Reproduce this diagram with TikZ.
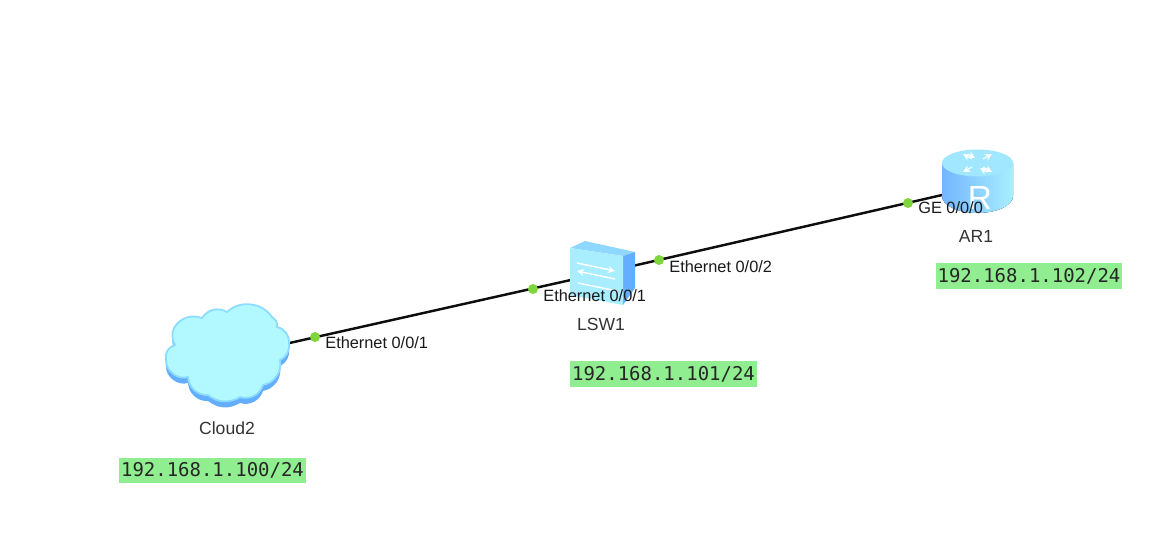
\documentclass[tikz,border=0pt]{standalone}
\usepackage{fontspec}
\setmainfont{Liberation Sans}
\setmonofont{DejaVu Sans Mono}
\usetikzlibrary{arrows.meta}
\definecolor{linkGreen}{HTML}{7FD63C}
\definecolor{ipGreen}{HTML}{90EE90}
\definecolor{cloudFill}{HTML}{B2F8FF}
\definecolor{cloudEdge}{HTML}{8CDCFF}
\definecolor{iconBlue}{HTML}{64AEFF}
\definecolor{iconLight}{HTML}{A8EEFF}
\definecolor{iconMid}{HTML}{8ED8FF}
\newcommand\CloudPath[2]{
	(175+#1,345+#2) to[bend left=25] (174+#1,328+#2) to[bend left=40] (202+#1,318+#2)
	to[bend left=45] (227+#1,312+#2) to[bend left=50] (272+#1,317+#2)
	to[bend left=35] (277+#1,327+#2) to[bend left=40] (289+#1,343+#2)
	to[bend left=35] (280+#1,360+#2) to[bend left=45] (263+#1,385+#2)
	to[bend left=45] (240+#1,397+#2) to[bend left=35] (208+#1,395+#2)
	to[bend left=45] (188+#1,377+#2) to[bend left=55] (166+#1,360+#2)
	to[bend left=45] (175+#1,345+#2) -- cycle
}
\tikzset{
	link/.style={draw=black!95, line width=1.4pt},
	port/.style={circle, fill=linkGreen, minimum size=0.2cm, inner sep=0pt},
	portlabel/.style={anchor=west, inner sep=0pt, text=black!90, font=\fontsize{9.3}{11}\selectfont},
	devlabel/.style={inner sep=0pt, text=black!80, font=\fontsize{10}{12}\selectfont},
	ipbox/.style={fill=ipGreen, minimum width=3.74cm, minimum height=0.51cm, inner sep=0pt, text=black!85, font=\ttfamily\fontsize{10.8}{12}\selectfont},
	iconarrow/.style={draw=white, line width=0.8pt, -{Stealth[length=4pt,width=4pt]}}
}

\begin{document}
\begin{tikzpicture}[x=0.02cm, y=-0.02cm]
	\useasboundingbox (0,0) rectangle (1173,551);
	\coordinate (Cloud2) at (227,357);
	\coordinate (LSW1) at (602,273);
	\coordinate (AR1) at (977,187);

	\draw[link] (Cloud2) -- (LSW1);
	\draw[link] (LSW1) -- (AR1);

	% cloud
	\fill[iconBlue] \CloudPath{0}{6};
	\draw[cloudEdge, line width=1pt, fill=cloudFill] \CloudPath{0}{0};

	% switch
	\fill[iconMid] (570,248) -- (585,241) -- (635,252) -- (623,256) -- cycle;
	\fill[iconBlue] (623,256) -- (635,252) -- (635,288) -- (623,305) -- cycle;
	\fill[iconLight] (570,248) -- (623,256) -- (623,305) -- (570,295) -- cycle;
	\foreach \xa/\ya/\xb/\yb in {577/263/615/271, 615/279/577/271}
	{
		\draw[iconarrow] (\xa,\ya) -- (\xb,\yb);
	}
	\draw[white, line width=0.8pt] (578,283) -- (617,291);

	% router
	\fill[left color=iconBlue!90!white, right color=iconLight] (942,163) -- (942,196) arc[x radius=35.5, y radius=17, start angle=180, end angle=0] -- (1013,163) -- cycle;
	\fill[iconLight!70!iconMid] (977.5,163) ellipse[x radius=35.5, y radius=13.5];
	\foreach \xa/\ya/\xb/\yb in {972/159/963/154, 983/159/992/154, 972/167/963/172, 983/167/992/172, 968/154/975/158, 987/172/980/168}
	{
		\draw[iconarrow, line width=0.6pt] (\xa,\ya) -- (\xb,\yb);
	}
	\node[inner sep=0pt, text=white, font=\fontsize{19}{20}\selectfont] (routerR) at (980,198) {R};

	% ports
	\node[port] (portA) at (315,337) {};
	\node[port] (portB) at (533,289) {};
	\node[port] (portC) at (659,260) {};
	\node[port] (portD) at (908,203) {};

	\node[portlabel] (labelA) at (325,343) {Ethernet 0/0/1};
	\node[portlabel] (labelB) at (543,296) {Ethernet 0/0/1};
	\node[portlabel] (labelC) at (669,267) {Ethernet 0/0/2};
	\node[portlabel] (labelD) at (918,208) {GE 0/0/0};

	\node[devlabel] (nameCloud) at (227,428) {Cloud2};
	\node[devlabel] (nameSwitch) at (601,324) {LSW1};
	\node[devlabel] (nameRouter) at (976,236) {AR1};

	\node[ipbox] (ipCloud) at (212.5,470.5) {192.168.1.100/24};
	\node[ipbox] (ipSwitch) at (663.5,374) {192.168.1.101/24};
	\node[ipbox] (ipRouter) at (1029,276) {192.168.1.102/24};
\end{tikzpicture}
\end{document}
